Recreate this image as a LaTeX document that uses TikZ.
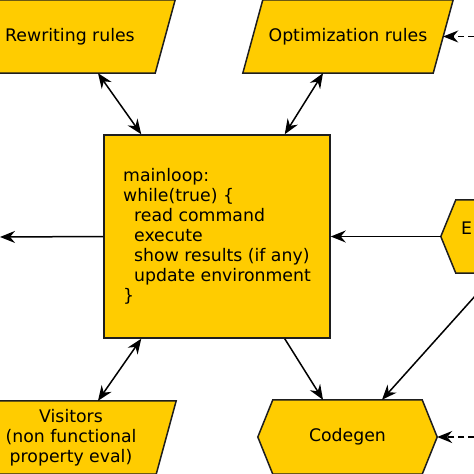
\documentclass[tikz,border=0pt]{standalone}
\usepackage{fontspec}
\setmainfont{DejaVu Sans}
\usetikzlibrary{calc,arrows.meta,backgrounds}
\definecolor{boxyellow}{HTML}{FFCC00}
\definecolor{boxline}{HTML}{1E1E1E}
\tikzset{
	parabox/.style={rectangle, minimum width=190, minimum height=73, inner sep=0pt, align=center},
	hexabox/.style={rectangle, minimum width=179, minimum height=74, inner sep=0pt},
	outline/.style={draw=boxline, fill=boxyellow, line width=1.5pt, line join=miter},
	link/.style={line width=1.5pt, -{Stealth[length=15pt,width=12pt,inset=5pt]}},
	twolink/.style={line width=1.5pt, {Stealth[length=15pt,width=12pt,inset=5pt]}-{Stealth[length=15pt,width=12pt,inset=5pt]}},
	dashlink/.style={link, dash pattern=on 6pt off 4pt}
}
% parallelogram and hexagon outlines round a named box
\newcommand{\paraline}[1]{\draw[outline] ($(#1.south west)+(-10, 0)$) -- ($(#1.south east)+(-10, 0)$) -- ($(#1.north east)+(10, 0)$) -- ($(#1.north west)+(10, 0)$) -- cycle;}
\newcommand{\hexaline}[1]{\draw[outline] (#1.west) -- ($(#1.north west)+(15, 0)$) -- ($(#1.north east)+(-15, 0)$) -- (#1.east) -- ($(#1.south east)+(-15, 0)$) -- ($(#1.south west)+(15, 0)$) -- cycle;}

\begin{document}
\begin{tikzpicture}[x=1pt, y=-1pt, font=\fontsize{17.3}{20}\selectfont]
			%%%%% START %%%%%
			
			\useasboundingbox (0, 0) rectangle (474, 474);
			\clip (0, 0) rectangle (474, 474);
			
			\node[parabox] (rewrite) at (70, 36.5) {Rewriting rules};
			\node[parabox] (optim) at (348, 36.5) {Optimization rules};
			\node[parabox] (visit) at (71, 437.5) {Visitors\\(non functional\\property eval)};
			
			\node[draw=boxline, fill=boxyellow, line width=1.5pt, minimum width=226, minimum height=203, align=left, inner sep=0pt] (main) at (217, 236.5) {mainloop:\\while(true) \{\\\hspace*{11pt}read command\\\hspace*{11pt}execute\\\hspace*{11pt}show results (if any)\\\hspace*{11pt}update environment\\\}};
			
			\node[hexabox] (codegen) at (347.5, 437) {Codegen};
			\node[hexabox, minimum height=73] (env) at (530.5, 236.5) {};
			\node[anchor=base west, inner sep=0pt] (envtext) at (461, 234) {E};
			
			\begin{scope}[on background layer]
				\clip (0, 0) rectangle (474, 474);
				\paraline{rewrite}
				\paraline{optim}
				\paraline{visit}
				\hexaline{codegen}
				\hexaline{env}
			\end{scope}
			
			\coordinate (leftout) at (0, 237);
			\coordinate (rightin) at (476, 295);
			\coordinate (optdash) at (474, 36.5);
			\coordinate (cgdash) at (474, 437);
			
			\draw[twolink] ($(rewrite.south)+(28, 0)$) -- ($(main.north west)+(38, 0)$);
			\draw[twolink] ($(optim.south)+(-25, 0)$) -- ($(main.north east)+(-46, 0)$);
			\draw[twolink] ($(visit.north)+(27, 0)$) -- ($(main.south west)+(38, 0)$);
			\draw[link] (main.west) -- (leftout);
			\draw[link] (env.west) -- (main.east);
			\draw[link] ($(main.south east)+(-46, 0)$) -- ($(codegen.north)+(-24.5, 0)$);
			\draw[link] (rightin) -- ($(codegen.north)+(34.5, 0)$);
			\draw[dashlink] (optdash) -- (optim.east);
			\draw[dashlink] (cgdash) -- (codegen.east);
			
			%%%%% END %%%%%
		\end{tikzpicture}
\end{document}
